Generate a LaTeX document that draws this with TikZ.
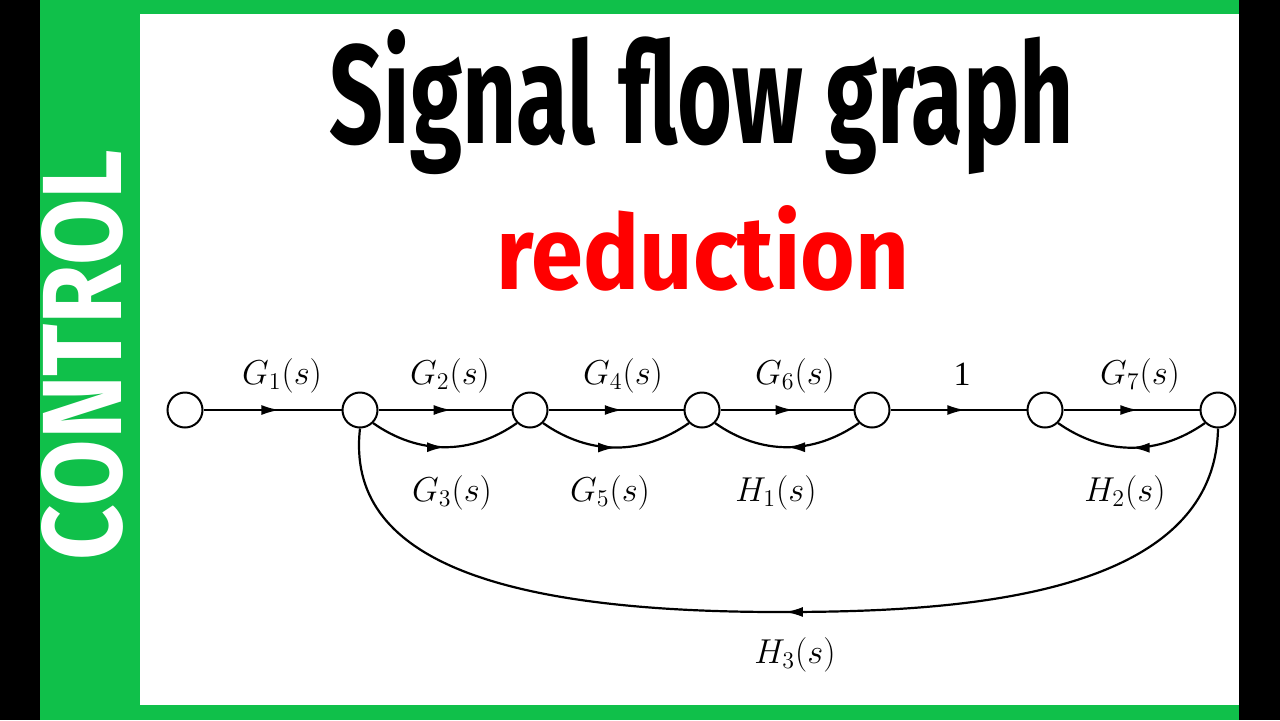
\documentclass[tikz,border=0pt]{standalone}
\usepackage{fontspec}
\usepackage{graphicx}
\setmainfont{Liberation Serif}
\newfontfamily\titlefont{Fira Sans}
\usetikzlibrary{decorations.markings,arrows.meta}
\definecolor{ytgreen}{RGB}{16,192,74}
\definecolor{ytred}{RGB}{255,0,0}
\begin{document}
\begin{tikzpicture}[x=0.5pt,y=-0.5pt,
  sfnode/.style={circle,draw,line width=1pt,fill=white,minimum size=17.5pt,inner sep=0pt},
  br/.style={line width=1.1pt,postaction={decorate},decoration={markings,mark=at position #1 with {\arrow{Latex[length=9pt,width=5pt]}}}},
  br/.default=0.55,
  lbl/.style={font=\fontsize{17}{17}\selectfont}]
\useasboundingbox (0,0) rectangle (1280,720);
\fill[ytgreen] (0,0) rectangle (1280,720);
\fill[black] (0,0) rectangle (40,720);
\fill[black] (1239,0) rectangle (1280,720);
\fill[white] (140,14) rectangle (1239,705);
\node[text=white,rotate=90,inner sep=0pt] (ctl) at (82,355) {\resizebox{205pt}{40pt}{\titlefont\bfseries CONTROL}};
\node[inner sep=0pt] (t1) at (702,102) {\resizebox{372pt}{57pt}{\titlefont\bfseries Signal flow graph}};
\node[inner sep=0pt,text=ytred] (t2) at (703,248) {\resizebox{206pt}{42pt}{\titlefont\bfseries reduction}};
% nodes
\node[sfnode] (n1) at (185,410) {};
\node[sfnode] (n2) at (360,410) {};
\node[sfnode] (n3) at (530,410) {};
\node[sfnode] (n4) at (702,410) {};
\node[sfnode] (n5) at (872,410) {};
\node[sfnode] (n6) at (1045,410) {};
\node[sfnode] (n7) at (1218,410) {};
% forward
\draw[br] (n1) -- (n2);
\draw[br] (n2) -- (n3);
\draw[br] (n3) -- (n4);
\draw[br] (n4) -- (n5);
\draw[br] (n5) -- (n6);
\draw[br] (n6) -- (n7);
% curves
\draw[br=0.5] (n2.south east) to[out=-35,in=-145] (n3.south west);
\draw[br=0.5] (n3.south east) to[out=-35,in=-145] (n4.south west);
\draw[br=0.5] (n5.south west) to[out=-145,in=-35] (n4.south east);
\draw[br=0.5] (n7.south west) to[out=-145,in=-35] (n6.south east);
\draw[br=0.5] (n7.south) .. controls (1215,600) and (950,612) .. (780,612)
  .. controls (500,612) and (345,560) .. (n2.south);
% labels
\node[lbl] (l1) at (282,376) {$G_1(s)$};
\node[lbl] (l2) at (450,376) {$G_2(s)$};
\node[lbl] (l4) at (623,376) {$G_4(s)$};
\node[lbl] (l6) at (795,376) {$G_6(s)$};
\node[lbl] (l0) at (962,374) {1};
\node[lbl] (l7) at (1140,376) {$G_7(s)$};
\node[lbl] (l3) at (452,493) {$G_3(s)$};
\node[lbl] (l5) at (610,493) {$G_5(s)$};
\node[lbl] (h1) at (776,493) {$H_1(s)$};
\node[lbl] (h2) at (1125,493) {$H_2(s)$};
\node[lbl] (h3) at (795,655) {$H_3(s)$};
\end{tikzpicture}
\end{document}
